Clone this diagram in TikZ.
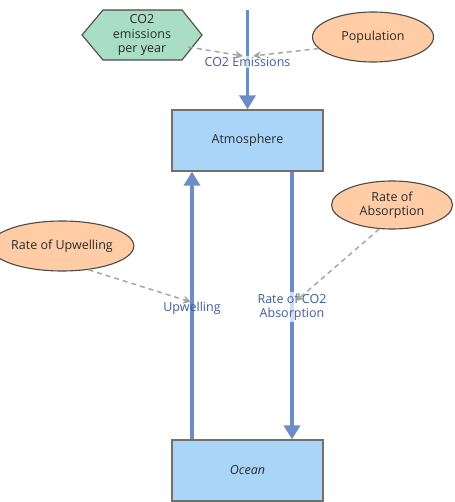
\documentclass[tikz,border=0pt]{standalone}
\usepackage{fontspec}
\setmainfont{Open Sans}
\usetikzlibrary{arrows.meta,shapes.geometric}
\definecolor{boxfill}{HTML}{A9D5F9}
\definecolor{boxline}{HTML}{707070}
\definecolor{flow}{HTML}{6B8CC6}
\definecolor{lbl}{HTML}{3F5C9A}
\definecolor{peach}{HTML}{FFCCA6}
\definecolor{mint}{HTML}{A9DEC4}
\definecolor{dash}{HTML}{A3A3A3}
\definecolor{txt}{HTML}{2A2A2A}
\tikzset{
  stock/.style={draw=boxline, line width=1.3pt, fill=boxfill, minimum width=151pt, minimum height=61pt, inner sep=0pt, font=\fontsize{12.5}{14.5}\selectfont, text=txt},
  varell/.style={ellipse, draw=txt!85, line width=1.1pt, fill=peach, inner sep=0pt, font=\fontsize{12.5}{14.5}\selectfont, text=txt, align=center},
  flowline/.style={draw=flow, line width=3.5pt, -{Triangle[length=14pt,width=16pt]}},
  flowlbl/.style={font=\fontsize{12.5}{14.5}\selectfont, text=lbl, align=center, inner sep=1pt},
  link/.style={draw=dash, line width=1.4pt, dash pattern=on 5pt off 4pt, -{Stealth[length=8pt,width=8pt]}}
}
\begin{document}
\begin{tikzpicture}[x=1pt,y=-1pt]
\useasboundingbox (0,0) rectangle (454,502);
\fill[white] (0,0) rectangle (454,502);
% stocks
\node[stock] (atm) at (247.5,140.5) {Atmosphere};
\node[stock] (ocean) at (247.5,470.5) {\itshape Ocean};
% hexagon
\coordinate (h1) at (82,35);
\coordinate (h2) at (103,10);
\coordinate (h3) at (182,10);
\coordinate (h4) at (202,35);
\coordinate (h5) at (182,60);
\coordinate (h6) at (103,60);
\draw[draw=txt!85, line width=1.1pt, fill=mint] (h1)--(h2)--(h3)--(h4)--(h5)--(h6)--cycle;
\node[font=\fontsize{12.5}{14.5}\selectfont, text=txt, align=center, inner sep=0pt] (hex) at (142,35) {CO2\\emissions\\per year};
% ellipses
\node[varell, minimum width=121pt, minimum height=50pt] (pop) at (373,37) {Population};
\node[varell, minimum width=120pt, minimum height=50pt] (rup) at (62,246) {Rate of Upwelling};
\node[varell, minimum width=121pt, minimum height=48pt] (rabs) at (392,205) {Rate of\\Absorption};
% flows
\coordinate (src) at (247.5,10);
\draw[flowline] (src) -- (atm.north);
\draw[flowline] (ocean.north -| 192,0) -- (atm.south -| 192,0);
\draw[flowline] (atm.south -| 292,0) -- (ocean.north -| 292,0);
% flow labels
\node[flowlbl, fill=white, fill opacity=0.7, text opacity=1] (emlbl) at (247.5,62) {CO2 Emissions};
\node[flowlbl] (uplbl) at (192,308) {Upwelling};
\node[flowlbl, fill=white, fill opacity=0.7, text opacity=1] (abslbl) at (292,307) {Rate of CO2\\Absorption};
% links
\coordinate (hs) at (188,47);
\coordinate (e1) at (243,56);
\coordinate (e2) at (253,56);
\coordinate (e3) at (191,302);
\coordinate (e4) at (296,301);
\draw[link] (hs) -- (e1);
\draw[link] (pop.192) -- (e2);
\draw[link] (rup.-42) -- (e3);
\draw[link] (rabs.-118) -- (e4);
\end{tikzpicture}
\end{document}
